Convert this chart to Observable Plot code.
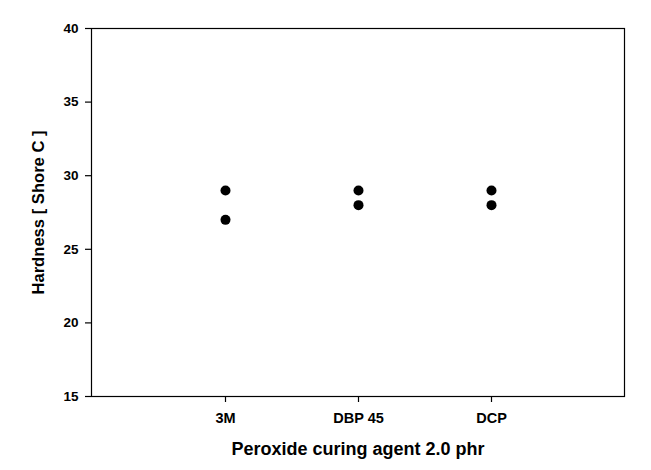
<!DOCTYPE html>
<html>
<head>
<meta charset="utf-8">
<script src="https://cdn.jsdelivr.net/npm/d3@7"></script>
<script src="https://cdn.jsdelivr.net/npm/@observablehq/plot@0.6"></script>
<style>
  html, body { margin: 0; padding: 0; background: #fff; }
  #chart { width: 651px; height: 470px; }
  svg { font-family: "Liberation Sans", Arial, sans-serif; }
</style>
</head>
<body>
<div id="chart"></div>
<script>
const categories = ["3M", "DBP 45", "DCP"];
const hardnessA = [29, 29, 29];
const hardnessB = [27, 28, 28];
const yTicks = [15, 20, 25, 30, 35, 40];
const xTitle = "Peroxide curing agent 2.0 phr";
const yTitle = "Hardness [ Shore C ]";

const data = [];
categories.forEach((c, i) => {
  data.push({agent: c, hardness: hardnessA[i]});
  data.push({agent: c, hardness: hardnessB[i]});
});

const chart = Plot.plot({
  width: 651,
  height: 470,
  marginLeft: 91,
  marginRight: 27,
  marginTop: 28,
  marginBottom: 74,
  style: {fontFamily: "Liberation Sans, Arial, sans-serif", fontSize: "14px", fontWeight: "bold", color: "#000", background: "#fff"},
  x: {type: "point", domain: categories, padding: 1, label: null},
  y: {domain: [15, 40], label: null},
  marks: [
    Plot.frame({stroke: "#000", strokeWidth: 1.2}),
    Plot.axisY({ticks: yTicks, tickSize: 6, tickPadding: 7, label: null, fontSize: 13.5, fontWeight: "bold", stroke: "#000", strokeWidth: 1.2}),
    Plot.axisX({ticks: categories, tickSize: 6, tickPadding: 10.5, label: null, fontSize: 14.5, fontWeight: "bold", stroke: "#000", strokeWidth: 1.2}),
    Plot.dot(data, {x: "agent", y: "hardness", r: 5, fill: "#000", stroke: "none"}),
    Plot.text([xTitle], {frameAnchor: "bottom", dy: 53, text: d => d, fontSize: 18, fontWeight: "bold", fill: "#000", lineAnchor: "middle", textAnchor: "middle"}),
    Plot.text([yTitle], {frameAnchor: "left", dx: -53, rotate: -90, text: d => d, fontSize: 16.6, fontWeight: "bold", fill: "#000", lineAnchor: "middle", textAnchor: "middle"})
  ]
});
document.getElementById("chart").appendChild(chart);
</script>
</body>
</html>
